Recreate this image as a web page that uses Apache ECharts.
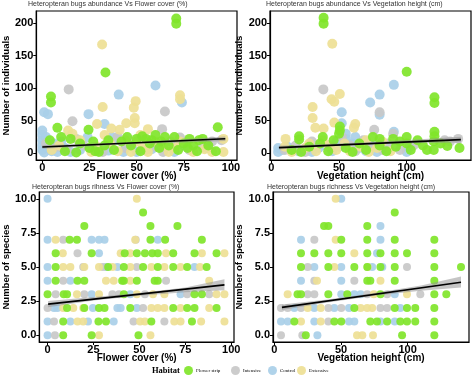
<!DOCTYPE html>
<html>
<head>
<meta charset="utf-8">
<script src="https://cdn.jsdelivr.net/npm/echarts@6/dist/echarts.min.js"></script>
<style>
  html, body { margin: 0; padding: 0; background: #fff; }
  #chart { width: 474px; height: 377px; }
</style>
</head>
<body>
<div id="chart"></div>
<script>
// habitat names and colours
const habitats = ['Flower strip', 'Intensive', 'Control', 'Extensive'];
const habitatColors = ['#80E52A', '#C8C8C8', '#A9CFE8', '#EEDF95'];

// tick values
const abunTicks = [0, 50, 100, 150, 200];
const richTicks = [0, 2.5, 5, 7.5, 10];
const coverTicks = [0, 25, 50, 75, 100];
const heightTicks = [0, 50, 100];

// abundance vs flower cover [x, y]
const abunCoverFlower = [[71,207],[71,199],[33.5,124],[4.6,87],[4.6,78],[8,39],[24.5,36],[93,40],[4,20],[10,25],[15,22],[20,15],[25,8],[28,3],[30,2],[33,12],[35,20],[38,5],[42,18],[45,25],[47,12],[50,22],[52,3],[55,22],[57,15],[60,28],[62,8],[65,25],[67,12],[70,25],[72,5],[75,15],[78,22],[80,12],[82,3],[85,22],[88,12],[92,3],[12,3],[18,1],[27,18],[53,26],[58,20],[63,18],[77,8],[83,20]];
const abunCoverIntensive = [[14,98],[16,49],[65,64],[63.5,37],[2,15],[8,10],[13,5],[18,22],[22,12],[32,2],[40,25],[44,8],[48,15],[55,5],[60,10],[64,2],[68,18],[73,24],[78,5],[85,10],[90,18],[95,20]];
const abunCoverControl = [[40.5,90],[60,104],[74,78],[1,63],[3,60],[24.5,60],[33,45],[0,35],[0,28],[0,20],[0,12],[0,5],[1,1],[2,25],[3,8],[5,3],[6,15],[8,2],[10,18],[12,8],[15,2],[20,5],[24,25],[27,10],[30,3],[35,4],[37,25],[40,22],[43,2],[46,12],[50,2],[58,6],[70,2],[75,12],[87,8]];
const abunCoverExtensive = [[31.7,167],[73,89],[73,83],[32,71],[49.5,80],[48.5,70],[49,54],[49,46],[29,45],[44.5,46],[56,37],[13.7,35],[41,36],[36.6,38],[16,30],[20,20],[26,2],[29,10],[33,28],[36,15],[40,3],[44,20],[47,2],[50,18],[53,8],[56,2],[60,18],[64,12],[67,2],[70,8],[73,18],[80,2],[86,6],[90,2],[96,2],[96,22],[5,5],[9,12],[52,28]];

// abundance vs vegetation height
const abunHeightFlower = [[38.6,208],[38.6,199],[100,125],[120.5,86],[120.5,77],[50.6,41],[50.6,35],[120.5,33],[120.5,26],[20.5,26],[20.5,21],[139,8],[130,11],[38,25],[15,5],[22,2],[28,10],[36,15],[42,3],[46,20],[55,8],[60,2],[65,15],[70,5],[75,25],[80,12],[85,3],[90,22],[92,10],[95,18],[100,25],[100,15],[103,5],[108,20],[112,12],[115,5],[120,18],[120,5],[125,15],[80,22],[50,30]];
const abunHeightIntensive = [[38.4,98],[80,63],[76,36],[10,5],[18,12],[25,2],[30,18],[44,8],[52,25],[58,12],[62,3],[68,20],[72,10],[82,5],[86,15],[90,30],[95,5],[105,12],[128,20],[132,18],[138,22]];
const abunHeightControl = [[90.5,105],[80,90],[73,78],[52,63],[80,59],[52,46],[90.5,33],[5,8],[5,2],[8,5],[12,10],[20,3],[30,2],[35,8],[40,12],[45,3],[48,18],[50,10],[55,30],[55,22],[58,5],[60,15],[62,25],[65,8],[70,3],[75,12],[78,2],[85,8],[100,2],[102,10]];
const abunHeightExtensive = [[45,168],[50.6,91],[44.5,83],[46.5,79],[30.5,71],[30.5,54],[46.5,47],[62,45],[32.5,39],[38.6,38],[61,39],[10.5,22],[10,10],[15,2],[25,8],[28,15],[33,3],[38,20],[42,12],[48,5],[54,15],[58,3],[66,10],[70,20],[72,2],[78,8],[82,18],[88,3]];

// richness vs flower cover
const richCoverFlower = [[52,9],[20,8],[56,8],[70.7,8],[12,7],[16,7],[56,7],[64,7],[84,7],[4.4,6],[24,6],[42,6],[48.6,6],[53,6],[57,6],[60,6],[68.4,6],[80,6],[92,6],[4.4,5],[33,5],[41.5,5],[52,5],[60,5],[68.4,5],[76,5],[86.6,5],[4.4,4],[16.3,4],[20,4],[40.6,4],[41.5,4],[48.6,4],[58.3,4],[60,4],[0,3],[8.8,3],[10.6,3],[41.5,3],[80,3],[84,3],[10.6,2],[20,2],[28,2],[31,2],[45,2],[68.4,2],[76,2],[80,2],[92,2],[8.5,1],[27.7,1],[31.8,1],[56.5,1],[78.6,1],[8.5,0],[24,0],[49.5,0]];
const richCoverIntensive = [[8.5,7],[48,7],[16.3,6],[19.4,5],[30,5],[48.6,5],[8.5,4],[64.5,4],[4.4,3],[20,3],[35.3,3],[38.9,3],[53,3],[76,3],[88,3],[0,2],[52,2],[3.5,1],[46.8,1],[63.6,1],[4,0]];
const richCoverControl = [[0,10],[0,7],[24,7],[28,7],[31,7],[60,7],[28,6],[0,5],[31.8,5],[38,5],[80,5],[0,4],[12.4,4],[24,3],[45,3],[72.4,3],[3.5,2],[5.3,2],[24.7,2],[38,2],[39.8,2],[48.6,2],[0,1],[12.4,1],[22,1],[36,1],[0,0]];
const richCoverExtensive = [[48.6,10],[4.4,7],[47.7,7],[8.3,6],[39.8,6],[45,6],[64.5,6],[84,6],[96.3,6],[8.5,5],[12.4,5],[20,5],[28,5],[35.3,5],[45,5],[56.5,5],[63.6,5],[72.4,5],[83,5],[31.8,4],[36,4],[45,4],[88,4],[16,3],[28,3],[48.6,3],[57.4,3],[63.6,3],[92,3],[96.3,3],[8.5,2],[14,2],[19.4,2],[56.5,2],[60,2],[63.6,2],[72.4,2],[88,2],[16.3,1],[19.4,1],[50.4,1],[53,1],[69,1],[72.4,1],[83.6,1],[96.3,1],[28,0],[56,0]];

// richness vs vegetation height
const richHeightFlower = [[90.3,9],[37.3,8],[40.5,8],[69.7,8],[50.2,7],[69.7,7],[90.3,7],[120,7],[20,6],[30,6],[40.5,6],[50.2,6],[69.7,6],[79.6,6],[90.3,6],[99.5,6],[120,6],[20,5],[40.5,5],[60,5],[69.7,5],[79.6,5],[90.3,5],[120,5],[140,5],[69.7,4],[72,4],[90.3,4],[120,4],[17.4,3],[20,3],[40.5,3],[54.7,3],[79.6,3],[120,3],[129,3],[60,2],[90.3,2],[99.5,2],[105.7,2],[120,2],[15,1],[45,1],[50.2,1],[72,1],[77,1],[84.6,1],[94.5,1],[99.5,1],[105.7,1],[120,1],[23.6,0],[95.8,0],[120,0]];
const richHeightIntensive = [[30,7],[25,5],[99.5,5],[30,4],[60,4],[25,3],[30,3],[69.7,3],[84.6,3],[109.5,3],[5,2],[10,2],[20,2],[40.5,2],[50.2,2],[79.6,2],[84.6,2],[40.5,1],[5,0],[21,0]];
const richHeightControl = [[50.2,10],[79.6,8],[20,7],[79.6,7],[77,6],[30,5],[50.2,5],[73.4,5],[81,5],[20,4],[50.2,4],[50.2,3],[60,3],[64.7,3],[90.3,3],[15,2],[30,2],[45,2],[56,2],[94.5,2],[5,1],[10,1],[30,1],[56,1],[60,1],[79.6,1],[90.3,1],[32.3,0]];
const richHeightExtensive = [[46,10],[46,7],[60,6],[45,5],[70,5],[32,4],[79.6,4],[10,3],[74.6,3],[99.5,3],[25,2],[34.8,2],[64.7,2],[69.7,2],[73.4,2],[20,1],[34.8,1],[62,0],[66,0],[74,0]];

// fitted lines (ends) and confidence bands [x, low, high]
const abunCoverFit = [[0,9.6],[97,22.3]];
const abunHeightFit = [[5.6,8.6],[140,20.9]];
const richCoverFit = [[0.3,2.28],[96.3,3.69]];
const richHeightFit = [[5.7,2.04],[140,3.88]];
const abunCoverBand = [[0,7,12.2],[25,10.8,14.4],[50,14.2,17.2],[75,16.5,21.5],[97,18.8,25.8]];
const abunHeightBand = [[5.6,5.8,11.4],[40,10.8,14],[75,14,17.4],[110,15.6,21.6],[140,16.5,25.3]];
const richCoverBand = [[0.3,2.05,2.5],[25,2.55,2.8],[50,2.9,3.1],[75,3.15,3.5],[96.3,3.3,4.1]];
const richHeightBand = [[5.7,1.85,2.25],[40,2.4,2.62],[75,2.9,3.1],[110,3.25,3.65],[140,3.5,4.3]];

const panels = [
  { title: 'Heteropteran bugs abundance Vs Flower cover (%)', titlePos: [28, 1],
    grid: { left: 35, top: 11, width: 202, height: 149 },
    x: [-3.2, 103.2, coverTicks, 'Flower cover (%)'], y: [-10.4, 218.4, abunTicks, 'Number of individuals'],
    pts: [abunCoverFlower, abunCoverIntensive, abunCoverControl, abunCoverExtensive],
    fit: abunCoverFit, band: abunCoverBand, size: 10 },
  { title: 'Heteropteran bugs abundance Vs Vegetation height (cm)', titlePos: [266, 1],
    grid: { left: 270, top: 11, width: 201, height: 149 },
    x: [-1, 147.5, heightTicks, 'Vegetation height (cm)'], y: [-10.4, 218.4, abunTicks, 'Number of individuals'],
    pts: [abunHeightFlower, abunHeightIntensive, abunHeightControl, abunHeightExtensive],
    fit: abunHeightFit, band: abunHeightBand, size: 10 },
  { title: 'Heteropteran bugs rihness Vs Flower cover (%)', titlePos: [32, 184],
    grid: { left: 35, top: 192, width: 199, height: 150 },
    x: [-4.5, 101.5, coverTicks, 'Flower cover (%)'], y: [-0.5, 10.5, richTicks, 'Number of species'],
    pts: [richCoverFlower, richCoverIntensive, richCoverControl, richCoverExtensive],
    fit: richCoverFit, band: richCoverBand, size: 8 },
  { title: 'Heteropteran bugs richness Vs Vegetation height (cm)', titlePos: [267, 184],
    grid: { left: 273, top: 192, width: 196, height: 150 },
    x: [-1, 146, heightTicks, 'Vegetation height (cm)'], y: [-0.5, 10.5, richTicks, 'Number of species'],
    pts: [richHeightFlower, richHeightIntensive, richHeightControl, richHeightExtensive],
    fit: richHeightFit, band: richHeightBand, size: 8 },
];

const axisFont = { color: '#000', fontWeight: 'bold', fontSize: 11, fontFamily: 'Liberation Sans' };
const drawOrder = [2, 1, 3, 0];

const series = [];
panels.forEach((p, i) => {
  drawOrder.forEach((h) => {
    series.push({
      name: habitats[h], type: 'scatter', xAxisIndex: i, yAxisIndex: i,
      data: p.pts[h], symbolSize: p.size,
      itemStyle: { color: habitatColors[h], opacity: 0.92 },
      silent: true,
    });
  });
  const band = p.band;
  series.push({
    type: 'custom', xAxisIndex: i, yAxisIndex: i, data: band, encode: { x: 0, y: [1, 2] },
    silent: true, z: 3,
    renderItem: (params, api) => {
      if (params.dataIndex !== 0) return null;
      const pts = band.map((b) => api.coord([b[0], b[1]]))
        .concat(band.slice().reverse().map((b) => api.coord([b[0], b[2]])));
      return { type: 'polygon', shape: { points: pts }, style: { fill: 'rgba(150,150,150,0.55)' } };
    },
  });
  series.push({
    type: 'line', xAxisIndex: i, yAxisIndex: i, data: p.fit, symbol: 'none', z: 4,
    lineStyle: { color: '#000', width: 1.6 }, silent: true,
  });
});

const chart = echarts.init(document.getElementById('chart'));
chart.setOption({
  animation: false,
  backgroundColor: '#fff',
  title: panels.map((p) => ({
    text: p.title, left: p.titlePos[0], top: p.titlePos[1], padding: 0,
    textStyle: { fontSize: 7, fontWeight: 'normal', color: '#333', fontFamily: 'Liberation Sans' },
  })),
  grid: panels.map((p) => ({ ...p.grid, show: true, borderColor: '#000', borderWidth: 1.2, backgroundColor: 'transparent' })),
  xAxis: panels.map((p, i) => ({
    type: 'value', gridIndex: i, min: p.x[0], max: p.x[1],
    name: p.x[3], nameLocation: 'middle', nameGap: 11, nameMoveOverlap: false,
    nameTextStyle: { ...axisFont, fontSize: 10, verticalAlign: 'top' },
    axisLine: { show: true, onZero: false, lineStyle: { color: '#000', width: 1.2 } },
    axisTick: { show: true, length: 3, customValues: p.x[2], lineStyle: { color: '#000' } },
    axisLabel: { ...axisFont, margin: 2, customValues: p.x[2] },
    splitLine: { show: false },
  })),
  yAxis: panels.map((p, i) => ({
    type: 'value', gridIndex: i, min: p.y[0], max: p.y[1],
    name: p.y[3], nameLocation: 'middle', nameGap: i < 2 ? 24 : 25,
    nameTextStyle: { ...axisFont, fontSize: 9.5 },
    axisLine: { show: true, onZero: false, lineStyle: { color: '#000', width: 1.2 } },
    axisTick: { show: true, length: 3, customValues: p.y[2], lineStyle: { color: '#000' } },
    axisLabel: {
      ...axisFont, margin: 3, customValues: p.y[2],
      formatter: (v) => (i < 2 ? String(v) : v.toFixed(1)),
    },
    splitLine: { show: false },
  })),
  legend: [
    { name: 'Flower strip', left: 184 },
    { name: 'Intensive', left: 231 },
    { name: 'Control', left: 268 },
    { name: 'Extensive', left: 297 },
  ].map((l) => ({
    data: [l.name], left: l.left, top: 366, padding: 0, itemWidth: 9, itemHeight: 9, itemGap: 0,
    icon: 'circle', selectedMode: false,
    textStyle: { fontSize: 5, fontFamily: 'Liberation Serif', color: '#000', padding: [0, 0, 0, -2] },
  })),
  graphic: [{
    type: 'text', left: 152, top: 366,
    style: { text: 'Habitat', font: 'bold 8.5px "Liberation Serif"', fill: '#000' },
  }],
  series,
});
</script>
</body>
</html>
